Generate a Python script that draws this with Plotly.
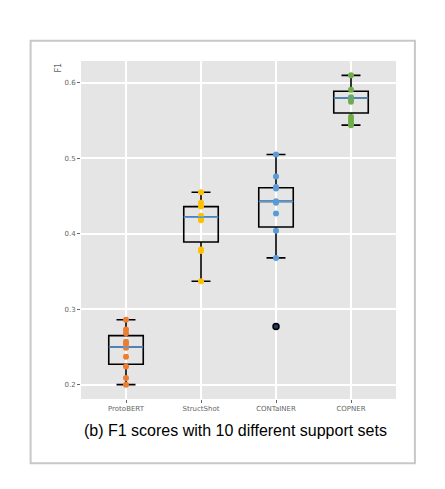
import plotly.graph_objects as go

categories = ["ProtoBERT", "StructShot", "CONTaINER", "COPNER"]
colors = ["#ED7D31", "#FFC000", "#5B9BD5", "#70AD47"]
points = [
    [0.286, 0.273, 0.268, 0.257, 0.254, 0.249, 0.237, 0.224, 0.209, 0.200],
    [0.455, 0.441, 0.436, 0.424, 0.421, 0.419, 0.418, 0.379, 0.377, 0.337],
    [0.505, 0.476, 0.462, 0.460, 0.443, 0.441, 0.427, 0.404, 0.368],
    [0.610, 0.591, 0.581, 0.580, 0.578, 0.575, 0.555, 0.551, 0.547, 0.544],
]
q1 = [0.227, 0.389, 0.409, 0.560]
median = [0.250, 0.422, 0.443, 0.580]
q3 = [0.265, 0.436, 0.461, 0.589]
low = [0.200, 0.337, 0.368, 0.544]
high = [0.286, 0.455, 0.505, 0.610]
outliers = [[], [], [0.277], []]

fig = go.Figure()
hw = 0.23
for i, c in enumerate(categories):
    fig.add_trace(go.Box(x=[i], q1=[q1[i]], median=[median[i]], q3=[q3[i]],
                         lowerfence=[low[i]], upperfence=[high[i]],
                         width=0.46, whiskerwidth=0.55, boxpoints=False,
                         line=dict(color="black", width=1.6),
                         fillcolor="rgba(0,0,0,0)", showlegend=False))
    fig.add_trace(go.Scatter(x=[i] * len(points[i]), y=points[i], mode="markers",
                             marker=dict(color=colors[i], size=6), showlegend=False))
    if outliers[i]:
        fig.add_trace(go.Scatter(x=[i] * len(outliers[i]), y=outliers[i], mode="markers",
                                 marker=dict(color="#1F3A5F", size=6,
                                             line=dict(color="black", width=1.5)),
                                 showlegend=False))
    fig.add_trace(go.Scatter(x=[i - hw, i + hw], y=[median[i]] * 2, mode="lines",
                             line=dict(color="#5B9BD5", width=1.6), showlegend=False))

fig.update_layout(
    width=445, height=489,
    margin=dict(l=73, r=57, t=53, b=98),
    paper_bgcolor="white", plot_bgcolor="#E5E5E5",
    font=dict(family="DejaVu Sans", size=7, color="#666"),
    xaxis=dict(tickvals=list(range(4)), ticktext=categories, range=[-0.6, 3.6],
               showgrid=True, gridcolor="white", gridwidth=1.5, zeroline=False,
               ticks="outside", ticklen=3, tickcolor="#666"),
    yaxis=dict(range=[0.181, 0.629], tickvals=[0.2, 0.3, 0.4, 0.5, 0.6],
               ticktext=["0.2", "0.3", "0.4", "0.5", "0.6"],
               showgrid=True, gridcolor="white", gridwidth=1.5, zeroline=False,
               ticks="outside", ticklen=3, tickcolor="#666"),
    shapes=[dict(type="rect", xref="paper", yref="paper", x0=-0.16, x1=1.06,
                 y0=-0.19, y1=1.06, line=dict(color="#c8c8c8", width=2))],
    annotations=[
        dict(text="F1", xref="paper", yref="paper", x=-0.095, y=1.0, showarrow=False,
             textangle=-90, font=dict(size=8, color="#666")),
        dict(text="(b) F1 scores with 10 different support sets", xref="paper", yref="paper",
             x=0.49, y=-0.125, showarrow=False, font=dict(size=16, color="black",
             family="Liberation Sans")),
    ],
)
fig.write_html("out.html")
